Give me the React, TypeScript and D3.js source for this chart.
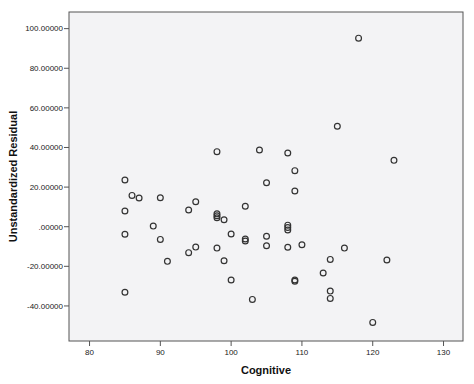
import React from "react";
import * as d3 from "d3";

const cognitive = [
  85, 86, 87, 90, 95, 94, 85, 98, 98, 98, 99, 102, 89, 85, 100, 102, 102, 105, 105, 90,
  95, 94, 98, 91, 99, 100, 103, 85, 98, 104, 108, 118, 115, 123, 109, 105, 109, 108, 108, 108,
  110, 116, 114, 122, 113, 109, 109, 114, 114, 120, 108,
];
const residual = [
  23.6, 15.8, 14.5, 14.6, 12.6, 8.4, 7.9, 6.5, 5.5, 4.5, 3.5, 10.3, 0.3, -3.8, -3.7, -6.2, -7.2, -4.8, -9.6, -6.4,
  -10.3, -13.1, -10.8, -17.5, -17.2, -26.9, -36.7, -33.1, 37.9, 38.7, 37.2, 95.2, 50.7, 33.5, 28.3, 22.2, 18.0, 0.8, -0.4, -1.6,
  -9.1, -10.8, -16.5, -16.8, -23.4, -26.9, -27.5, -32.5, -36.2, -48.3, -10.4,
];
const xTicks = [80, 90, 100, 110, 120, 130];
const yTicks = [-40, -20, 0, 20, 40, 60, 80, 100];

const W = 474;
const H = 384;
const left = 69, right = 463, top = 12, bottom = 341;

export default function App() {
  const x = d3.scaleLinear().domain([77.1, 132.75]).range([left, right]);
  const y = d3.scaleLinear().domain([-57.7, 108.4]).range([bottom, top]);
  const fmt = (v: number) => {
    const s = d3.format(".5f")(v).replace("−", "-");
    return s.startsWith("0.") ? s.slice(1) : s;
  };
  const font = "'Liberation Sans', Arial, sans-serif";
  return (
    <svg width={W} height={H} style={{ position: "absolute", left: 0, top: 0, background: "#fff" }}>
      <rect x={0} y={0} width={W} height={H} fill="#fff" />
      <rect x={left} y={top} width={right - left} height={bottom - top} fill="#f3f3f5" stroke="#555" strokeWidth={1} />
      {yTicks.map((t) => (
        <g key={"y" + t}>
          <line x1={left - 5} x2={left} y1={y(t)} y2={y(t)} stroke="#555" strokeWidth={1} />
          <text x={left - 6} y={y(t)} dy="0.35em" textAnchor="end" fontSize={8} fontFamily={font} fill="#222">
            {fmt(t)}
          </text>
        </g>
      ))}
      {xTicks.map((t) => (
        <g key={"x" + t}>
          <line x1={x(t)} x2={x(t)} y1={bottom} y2={bottom + 5} stroke="#555" strokeWidth={1} />
          <text x={x(t)} y={bottom + 14} textAnchor="middle" fontSize={8} fontFamily={font} fill="#222">
            {t}
          </text>
        </g>
      ))}
      {cognitive.map((c, i) => (
        <circle key={i} cx={x(c)} cy={y(residual[i])} r={2.9} fill="none" stroke="#333" strokeWidth={1.2} />
      ))}
      <text x={(left + right) / 2} y={374} textAnchor="middle" fontSize={11} fontWeight="bold" fontFamily={font} fill="#111">
        Cognitive
      </text>
      <text
        transform={`translate(17,${(top + bottom) / 2}) rotate(-90)`}
        textAnchor="middle"
        fontSize={11}
        fontWeight="bold"
        fontFamily={font}
        fill="#111"
      >
        Unstandardized Residual
      </text>
    </svg>
  );
}
